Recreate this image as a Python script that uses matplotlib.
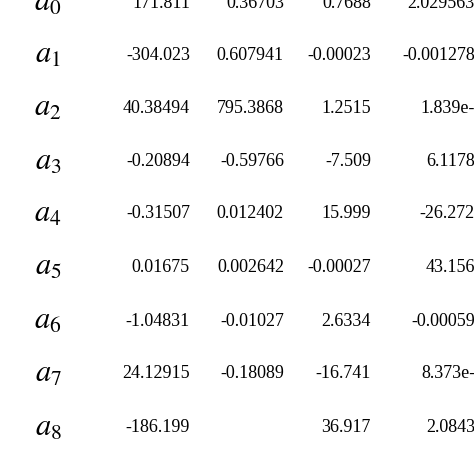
import matplotlib
matplotlib.use("Agg")
import matplotlib.pyplot as plt

# row labels and coefficient columns (top row is cut off in the source)
row_labels = ["$a_0$", "$a_1$", "$a_2$", "$a_3$", "$a_4$", "$a_5$", "$a_6$", "$a_7$", "$a_8$"]
col1 = ["171.811", "-304.023", "40.38494", "-0.20894", "-0.31507", "0.01675", "-1.04831", "24.12915", "-186.199"]
col2 = ["0.36703", "0.607941", "795.3868", "-0.59766", "0.012402", "0.002642", "-0.01027", "-0.18089", ""]
col3 = ["0.7688", "-0.00023", "1.2515", "-7.509", "15.999", "-0.00027", "2.6334", "-16.741", "36.917"]
col4 = ["2.0295635", "-0.0012781", "1.839e-7", "6.11785", "-26.2725", "43.1561", "-0.000595", "8.373e-8", "2.08436"]

row_y = [3, 55, 108, 162, 214, 267, 321, 374, 428]
col_x = [190, 284, 371, 484]

plt.rcParams["mathtext.fontset"] = "stix"
fig = plt.figure(figsize=(4.74, 4.74), dpi=100)
ax = fig.add_axes([0, 0, 1, 1])
ax.set_xlim(0, 474)
ax.set_ylim(474, 0)
ax.axis("off")

for i, y in enumerate(row_y):
    ax.text(48, y, row_labels[i], fontsize=22, ha="center", va="center",
            family="Liberation Serif")
    for x, col in zip(col_x, [col1, col2, col3, col4]):
        ax.text(x, y, col[i], fontsize=13, ha="right", va="center",
                family="Liberation Serif", clip_on=False)

fig.savefig("out.png", dpi=100)
